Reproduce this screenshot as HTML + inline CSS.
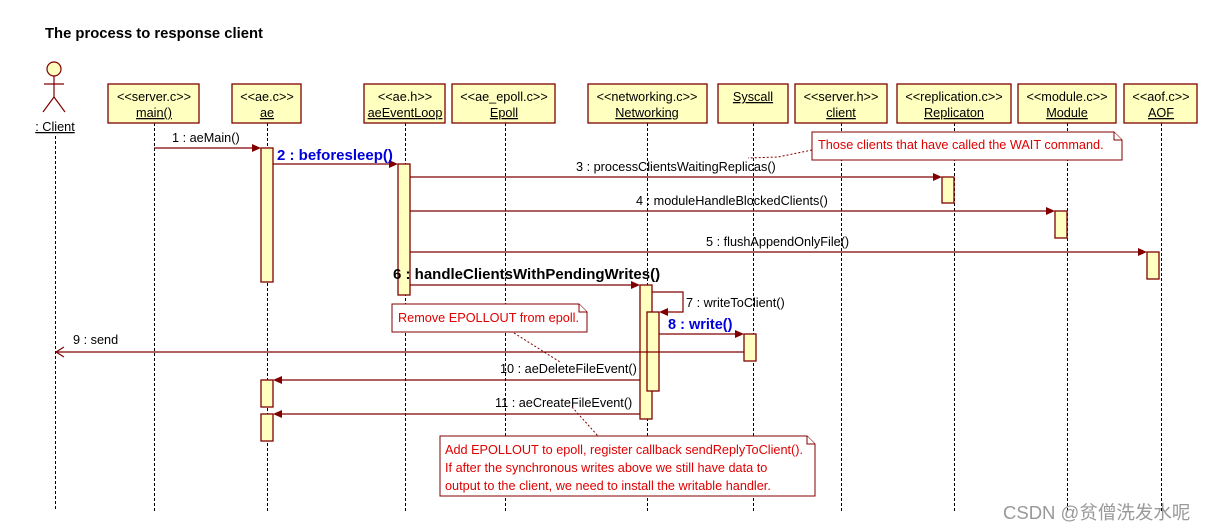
<!DOCTYPE html>
<html><head><meta charset="utf-8"><style>
html,body{margin:0;padding:0;background:#fff;width:1209px;height:532px;overflow:hidden}
svg{display:block}
text{font-family:"Liberation Sans","Noto Sans CJK SC",sans-serif;font-size:12.7px;fill:#000}
.h{fill:#ffffc0;stroke:#800000;stroke-width:1.3}
.ll{stroke:#000;stroke-width:1;stroke-dasharray:3,2}
.m{stroke:#800000;stroke-width:1.2;fill:none}
.ah{fill:#800000}
.n{fill:#fff;stroke:#800000;stroke-width:1}
.r{fill:#e00000}
.d{stroke:#800000;stroke-width:1;stroke-dasharray:2,2;fill:none}
</style></head><body>
<svg width="1209" height="532" viewBox="0 0 1209 532">
<text x="45" y="38" style="font-weight:bold;font-size:14.8px">The process to response client</text>

<circle cx="54" cy="69" r="7" fill="#ffffc0" stroke="#800000" stroke-width="1.2"/>
<g stroke="#800000" stroke-width="1.2">
<line x1="54" y1="76" x2="54" y2="97"/><line x1="44" y1="84" x2="64" y2="84"/>
<line x1="54" y1="97" x2="43" y2="112"/><line x1="54" y1="97" x2="65" y2="112"/>
</g>
<text x="55" y="131" text-anchor="middle" text-decoration="underline">: Client</text>

<g class="ll">
<line x1="55.5" y1="136" x2="55.5" y2="511"/>
<line x1="154.5" y1="123" x2="154.5" y2="511"/>
<line x1="267.5" y1="123" x2="267.5" y2="511"/>
<line x1="405.5" y1="123" x2="405.5" y2="511"/>
<line x1="505.5" y1="123" x2="505.5" y2="511"/>
<line x1="647.5" y1="123" x2="647.5" y2="511"/>
<line x1="753.5" y1="123" x2="753.5" y2="511"/>
<line x1="841.5" y1="123" x2="841.5" y2="511"/>
<line x1="954.5" y1="123" x2="954.5" y2="511"/>
<line x1="1067.5" y1="123" x2="1067.5" y2="511"/>
<line x1="1161.5" y1="123" x2="1161.5" y2="511"/>
</g>

<g>
<rect class="h" x="108" y="84" width="91" height="39"/><text x="154" y="101" text-anchor="middle">&lt;&lt;server.c&gt;&gt;</text><text x="154" y="117" text-anchor="middle" text-decoration="underline">main()</text>
<rect class="h" x="232" y="84" width="69" height="39"/><text x="267" y="101" text-anchor="middle">&lt;&lt;ae.c&gt;&gt;</text><text x="267" y="117" text-anchor="middle" text-decoration="underline">ae</text>
<rect class="h" x="364" y="84" width="81" height="39"/><text x="405" y="101" text-anchor="middle">&lt;&lt;ae.h&gt;&gt;</text><text x="405" y="117" text-anchor="middle" text-decoration="underline">aeEventLoop</text>
<rect class="h" x="452" y="84" width="103" height="39"/><text x="504" y="101" text-anchor="middle">&lt;&lt;ae_epoll.c&gt;&gt;</text><text x="504" y="117" text-anchor="middle" text-decoration="underline">Epoll</text>
<rect class="h" x="588" y="84" width="119" height="39"/><text x="647" y="101" text-anchor="middle">&lt;&lt;networking.c&gt;&gt;</text><text x="647" y="117" text-anchor="middle" text-decoration="underline">Networking</text>
<rect class="h" x="718" y="84" width="70" height="39"/><text x="753" y="101" text-anchor="middle" text-decoration="underline">Syscall</text>
<rect class="h" x="795" y="84" width="92" height="39"/><text x="841" y="101" text-anchor="middle">&lt;&lt;server.h&gt;&gt;</text><text x="841" y="117" text-anchor="middle" text-decoration="underline">client</text>
<rect class="h" x="897" y="84" width="114" height="39"/><text x="954" y="101" text-anchor="middle">&lt;&lt;replication.c&gt;&gt;</text><text x="954" y="117" text-anchor="middle" text-decoration="underline">Replicaton</text>
<rect class="h" x="1018" y="84" width="98" height="39"/><text x="1067" y="101" text-anchor="middle">&lt;&lt;module.c&gt;&gt;</text><text x="1067" y="117" text-anchor="middle" text-decoration="underline">Module</text>
<rect class="h" x="1124" y="84" width="73" height="39"/><text x="1161" y="101" text-anchor="middle">&lt;&lt;aof.c&gt;&gt;</text><text x="1161" y="117" text-anchor="middle" text-decoration="underline">AOF</text>
</g>

<rect class="h" x="261" y="148" width="12" height="134"/>
<rect class="h" x="398" y="164" width="12" height="131"/>
<rect class="h" x="942" y="177" width="12" height="26"/>
<rect class="h" x="1055" y="211" width="12" height="27"/>
<rect class="h" x="1147" y="252" width="12" height="27"/>
<rect class="h" x="640" y="285" width="12" height="134"/>
<rect class="h" x="647" y="312" width="12" height="79"/>
<rect class="h" x="744" y="334" width="12" height="27"/>
<rect class="h" x="261" y="380" width="12" height="27"/>
<rect class="h" x="261" y="414" width="12" height="27"/>

<g class="m">
<line x1="154" y1="148" x2="252" y2="148"/>
<line x1="273" y1="164" x2="389" y2="164"/>
<line x1="410" y1="177" x2="933" y2="177"/>
<line x1="410" y1="211" x2="1046" y2="211"/>
<line x1="410" y1="252" x2="1138" y2="252"/>
<line x1="410" y1="285" x2="631" y2="285"/>
<polyline points="652,292 683,292 683,312 668,312"/>
<line x1="659" y1="334" x2="735" y2="334"/>
<line x1="744" y1="352" x2="56" y2="352"/>
<polyline points="64,347 56,352 64,357"/>
<line x1="640" y1="380" x2="282" y2="380"/>
<line x1="640" y1="414" x2="282" y2="414"/>
</g>
<g class="ah">
<polygon points="252,144 261,148 252,152"/>
<polygon points="389,160 398,164 389,168"/>
<polygon points="933,173 942,177 933,181"/>
<polygon points="1046,207 1055,211 1046,215"/>
<polygon points="1138,248 1147,252 1138,256"/>
<polygon points="631,281 640,285 631,289"/>
<polygon points="668,308 659,312 668,316"/>
<polygon points="735,330 744,334 735,338"/>
<polygon points="282,376 273,380 282,384"/>
<polygon points="282,410 273,414 282,418"/>
</g>

<text x="172" y="142">1 : aeMain()</text>
<text x="277" y="160" style="font-weight:bold;fill:#0000dd;font-size:15px">2 : beforesleep()</text>
<text x="576" y="171">3 : processClientsWaitingReplicas()</text>
<text x="636" y="205">4 : moduleHandleBlockedClients()</text>
<text x="706" y="246">5 : flushAppendOnlyFile()</text>
<text x="393" y="279" style="font-weight:bold;font-size:15px">6 : handleClientsWithPendingWrites()</text>
<text x="686" y="307">7 : writeToClient()</text>
<text x="668" y="329" style="font-weight:bold;fill:#0000dd;font-size:14.5px">8 : write()</text>
<text x="73" y="344">9 : send</text>
<text x="500" y="373">10 : aeDeleteFileEvent()</text>
<text x="495" y="407">11 : aeCreateFileEvent()</text>

<g>
<path class="d" d="M812,150 L778,157 L748,158"/>
<path class="n" d="M812,132 L1114,132 L1122,140 L1122,160 L812,160 Z"/>
<path class="n" d="M1114,132 L1114,140 L1122,140"/>
<text class="r" x="818" y="149">Those clients that have called the WAIT command.</text>

<path class="d" d="M514,333 L560,362"/>
<path class="n" d="M392,304 L579,304 L587,312 L587,332 L392,332 Z"/>
<path class="n" d="M579,304 L579,312 L587,312"/>
<text class="r" x="398" y="322">Remove EPOLLOUT from epoll.</text>

<path class="d" d="M572,407 L598,436"/>
<path class="n" d="M440,436 L807,436 L815,444 L815,496 L440,496 Z"/>
<path class="n" d="M807,436 L807,444 L815,444"/>
<text class="r" x="445" y="454">Add EPOLLOUT to epoll, register callback sendReplyToClient().</text>
<text class="r" x="445" y="472">If after the synchronous writes above we still have data to</text>
<text class="r" x="445" y="490">output to the client, we need to install the writable handler.</text>
</g>

<text x="1003" y="519" style="font-size:18.5px;fill:#999">CSDN @贫僧洗发水呢</text>
</svg>
</body></html>
